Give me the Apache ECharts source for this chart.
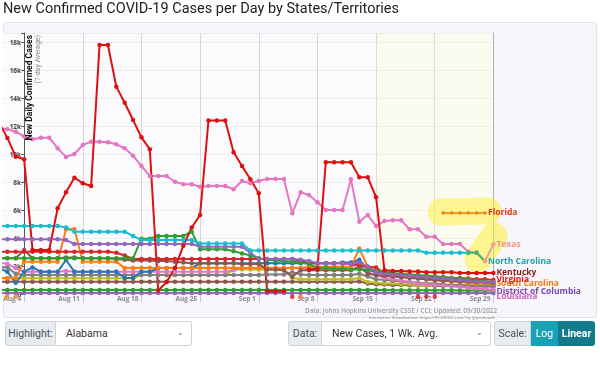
<!DOCTYPE html>
<html><head><meta charset="utf-8">
<script src="https://cdn.jsdelivr.net/npm/echarts@6/dist/echarts.min.js"></script>
<style>
body{margin:0;background:#fff;}
#wrap{position:relative;width:600px;height:386px;overflow:hidden;font-family:Roboto,sans-serif;}
#panel{position:absolute;left:3px;top:22px;width:594px;height:296px;background:#f7f7fb;border:1px solid #e3e3ea;border-radius:3px;box-sizing:border-box;}
#chart{position:absolute;left:0;top:0;width:600px;height:386px;}
.grp{position:absolute;top:321px;height:25px;display:flex;font-size:10.5px;color:#495057;}
.lab{background:#e9ecef;border:1px solid #ced4da;border-radius:3px 0 0 3px;display:flex;align-items:center;justify-content:center;box-sizing:border-box;height:25px;}
.sel{background:#fff;border:1px solid #ced4da;border-left:none;border-radius:0 3px 3px 0;display:flex;align-items:center;box-sizing:border-box;height:25px;padding-left:10px;position:relative;color:#333;}
.chev{position:absolute;right:7px;top:6px;font-size:8px;color:#777;}
.btn{display:flex;align-items:center;justify-content:center;color:#fff;height:25px;box-sizing:border-box;}
</style></head>
<body><div id="wrap">
<div id="panel"></div>
<div id="chart"></div>
<div class="grp" style="left:5px;"><div class="lab" style="width:51px;">Highlight:</div><div class="sel" style="width:136px;">Alabama<span class="chev">&#8964;</span></div></div>
<div class="grp" style="left:288px;"><div class="lab" style="width:34px;">Data:</div><div class="sel" style="width:169px;">New Cases, 1 Wk. Avg.<span class="chev">&#8964;</span></div></div>
<div class="grp" style="left:494px;"><div class="lab" style="width:37px;">Scale:</div><div class="btn" style="width:27px;background:#17a2b8;">Log</div><div class="btn" style="width:37px;background:#117a8b;border-radius:0 3px 3px 0;font-weight:bold;">Linear</div></div>
</div>
<script>
const tickLabels = ['Aug 4','Aug 11','Aug 18','Aug 25','Sep 1','Sep 8','Sep 15','Sep 22','Sep 29'];
const dates = ['Aug 1','Aug 2','Aug 3','Aug 4','Aug 5','Aug 6','Aug 7','Aug 8','Aug 9','Aug 10',
'Aug 11','Aug 12','Aug 13','Aug 14','Aug 15','Aug 16','Aug 17','Aug 18','Aug 19','Aug 20',
'Aug 21','Aug 22','Aug 23','Aug 24','Aug 25','Aug 26','Aug 27','Aug 28','Aug 29','Aug 30',
'Aug 31','Sep 1','Sep 2','Sep 3','Sep 4','Sep 5','Sep 6','Sep 7','Sep 8','Sep 9',
'Sep 10','Sep 11','Sep 12','Sep 13','Sep 14','Sep 15','Sep 16','Sep 17','Sep 18','Sep 19',
'Sep 20','Sep 21','Sep 22','Sep 23','Sep 24','Sep 25','Sep 26','Sep 27','Sep 28','Sep 29'];
const recentStart = 'Sep 15';

// values in thousands of cases / day (7-day avg)
const kentucky = [12.3,11.2,9.86,9.67,3.2,3.2,3.2,6.17,7.31,8.36,
7.96,7.76,17.84,17.84,14.86,13.71,12.48,11.24,10.39,0.3,
0.9,1.9,3.5,4.8,5.7,12.44,12.44,12.44,10.17,9.19,
8.24,7.24,0.25,0.25,0.25,null,null,1.8,1.85,9.46,
9.46,9.46,9.46,8.39,8.39,6.96,1.75,1.7,1.7,1.65,
1.65,1.6,1.6,1.6,1.6,1.55,1.55,1.55,1.55,1.55];
const texas = [11.9,11.81,11.64,11.29,11.1,11.21,11.21,10.46,9.84,10.05,
10.69,10.93,10.93,10.89,10.74,10.46,9.93,9.19,8.48,8.48,
8.48,8.07,7.89,7.89,7.71,7.76,7.76,7.76,7.53,8.12,
7.96,8.12,8.27,8.27,8.27,5.81,7.31,7.12,6.6,6.05,
6.05,6.05,8.24,5.21,5.69,4.91,5.26,5.31,5.31,4.67,
4.67,4.14,4.14,3.62,3.62,3.62,3.07,3.0,2.4,3.6];
const northCarolina = [4.9,4.9,4.9,4.9,4.9,4.9,4.9,4.9,4.8,4.5,
4.5,4.5,4.5,4.5,4.5,4.5,4.2,3.9,3.9,3.9,
3.9,3.9,3.9,3.9,3.65,3.65,3.65,3.65,3.65,3.65,
3.15,3.15,3.15,3.15,3.15,3.15,3.15,3.15,3.15,3.15,
3.15,3.15,3.15,3.15,3.15,3.15,3.15,3.15,3.15,3.15,
3.15,3.0,3.0,3.0,3.0,3.0,3.0,3.0,2.4,null];
const florida = [null,null,null,null,null,null,null,null,null,null,
null,null,null,null,null,null,null,null,null,null,
null,null,null,null,null,null,null,null,null,null,
null,null,null,null,null,null,null,null,null,null,
null,null,null,null,null,null,null,null,null,null,
null,null,null,5.84,5.84,5.84,5.84,5.84,5.84,null];
const purpleA = [3.96,3.96,3.96,3.96,3.96,3.96,3.96,3.96,3.9,3.62,
3.62,3.62,3.62,3.62,3.62,3.62,3.62,3.62,3.62,3.62,
3.62,3.62,3.62,3.62,3.43,3.43,3.43,3.43,3.43,3.43,
3.0,2.55,2.55,2.55,2.55,2.55,2.5,2.4,2.25,2.25,
2.25,2.25,2.2,2.3,2.0,1.6,1.5,1.45,1.4,1.35,
1.3,1.25,1.2,1.15,1.1,1.05,1.0,0.95,0.9,0.9];
const greenA = [2.6,2.6,2.6,2.6,2.6,2.6,2.6,2.6,2.6,2.6,
2.6,2.6,2.6,2.6,2.6,2.6,2.6,4.0,4.0,4.2,
4.2,4.2,4.2,4.5,3.24,3.24,3.24,3.24,3.1,2.95,
2.8,2.6,2.5,2.45,2.4,2.35,2.3,2.2,1.9,1.9,
1.85,1.85,1.8,1.8,1.75,1.7,1.6,1.55,1.5,1.45,
1.4,1.35,1.3,1.25,1.2,1.15,1.1,1.0,0.95,0.9];
const virginia = [3.07,3.07,3.07,3.07,3.07,3.07,3.07,3.07,3.07,3.07,
3.07,3.07,3.07,3.07,3.0,2.8,2.55,2.55,2.55,2.55,
2.55,2.55,2.55,2.55,2.55,2.55,2.55,2.55,2.55,2.55,
2.55,2.55,2.55,2.55,2.55,2.55,2.4,2.25,2.25,2.25,
2.25,2.25,2.2,2.1,2.0,1.95,1.5,1.45,1.4,1.4,
1.35,1.3,1.3,1.25,1.2,1.2,1.15,1.1,1.1,1.05];
const brownA = [2.6,2.6,2.6,3.2,2.6,2.6,2.6,2.6,2.65,2.65,
2.6,2.6,2.6,2.6,2.55,2.5,2.45,2.45,2.45,2.4,
2.4,2.35,2.3,2.25,2.25,2.25,2.25,2.25,2.25,2.2,
2.2,2.2,1.8,1.8,1.75,1.29,1.75,1.75,1.75,1.75,
1.75,1.75,1.75,2.0,1.5,1.4,1.35,1.3,1.25,1.2,
1.15,1.1,1.05,1.0,1.0,0.95,0.95,0.9,0.9,0.85];
const southCarolina = [1.2,1.2,1.2,2.36,2.36,2.36,2.36,2.36,4.67,4.67,
2.36,2.36,2.36,2.36,2.36,1.9,1.9,1.9,1.9,1.9,
1.9,1.9,1.9,1.9,1.9,1.9,1.9,1.9,1.9,1.9,
1.9,1.9,1.9,1.9,1.9,1.9,1.9,2.0,2.0,2.0,
2.0,2.0,2.0,3.3,2.0,1.7,1.5,1.4,1.3,1.25,
1.2,1.1,1.05,1.0,0.95,0.9,0.85,0.8,0.8,0.76];
const blueA = [1.9,1.64,0.85,1.64,1.95,1.64,1.64,1.64,2.48,1.64,
1.64,1.64,1.64,1.64,1.64,1.2,1.2,1.64,1.64,1.9,
1.9,1.9,1.9,1.9,2.24,2.24,2.24,2.24,2.24,2.24,
2.24,2.24,2.24,2.24,2.24,2.24,2.24,2.24,2.24,2.24,
2.24,2.3,2.3,2.5,1.8,1.6,1.5,1.45,1.4,1.3,
1.25,1.2,1.1,1.05,1.0,0.95,0.9,0.85,0.8,0.75];
const louisiana = [2.3,2.2,1.9,1.64,1.64,1.64,1.64,1.64,1.7,1.64,
1.64,1.64,1.64,1.64,1.64,1.64,1.64,1.64,1.64,1.64,
1.64,1.64,1.64,1.64,1.64,1.64,1.64,1.64,1.75,1.9,
1.9,1.9,1.9,1.9,1.9,1.9,1.9,1.9,1.9,1.9,
1.9,1.9,2.0,2.2,1.6,1.4,1.2,1.1,1.0,0.9,
0.8,0.75,0.7,0.65,0.6,0.55,0.5,0.45,0.4,0.35];
const grayA = [2.0,1.95,1.5,1.4,1.4,1.4,1.4,1.4,1.4,1.4,
1.4,1.4,1.4,1.4,1.4,1.4,1.4,1.4,1.4,1.4,
1.4,1.4,1.4,1.4,1.4,1.4,1.4,1.4,1.4,1.4,
1.4,1.4,1.45,1.45,1.45,1.6,1.45,1.4,1.4,1.4,
1.4,1.4,1.4,1.5,1.3,1.1,1.05,1.0,0.95,0.9,
0.85,0.8,0.8,0.75,0.7,0.7,0.65,0.65,0.6,0.6];
const oliveA = [1.17,1.17,1.17,1.17,1.17,1.17,1.17,1.17,1.17,1.17,
1.17,1.17,1.17,1.17,1.17,1.17,1.17,1.4,1.4,1.4,
1.4,1.4,1.4,1.4,1.4,1.4,1.4,1.4,1.8,1.8,
1.8,1.8,1.8,1.8,1.8,1.2,1.1,1.1,1.1,1.1,
1.1,1.1,1.1,1.2,0.9,0.85,0.8,0.8,0.75,0.75,
0.7,0.7,0.7,0.7,0.7,0.65,0.65,0.65,0.65,0.65];
const brownB = [0.93,0.93,0.93,0.93,0.93,0.93,0.93,0.93,0.93,0.93,
0.93,0.93,0.93,0.93,0.93,0.93,0.93,0.93,0.93,0.93,
0.93,0.93,0.93,0.93,0.93,0.93,0.93,0.93,0.93,0.93,
0.93,0.93,0.93,0.93,0.93,0.93,0.93,0.93,0.93,0.93,
0.93,0.93,0.93,0.95,0.8,0.75,0.72,0.7,0.7,0.68,
0.66,0.65,0.64,0.62,0.62,0.6,0.6,0.6,0.58,0.58];
const greenB = [0.34,0.34,0.34,0.34,0.34,0.34,0.34,0.34,0.34,0.34,
0.34,0.34,0.34,0.34,0.34,0.34,0.34,0.34,0.34,0.34,
0.34,0.34,0.34,0.34,0.34,0.34,0.34,0.34,0.34,0.34,
0.34,0.34,0.34,0.34,0.34,0.34,0.34,0.34,0.34,0.34,
0.34,0.34,0.34,0.34,0.33,0.33,0.33,0.32,0.32,0.32,
0.32,0.31,0.31,0.31,0.31,0.3,0.3,0.3,0.3,0.3];
const districtOfColumbia = [0.13,0.13,0.13,0.13,0.13,0.13,0.13,0.13,0.13,0.13,
0.13,0.13,0.13,0.13,0.13,0.13,0.13,0.13,0.13,0.13,
0.13,0.13,0.13,0.13,0.13,0.13,0.13,0.13,0.13,0.13,
0.13,0.13,0.13,0.13,0.13,0.13,0.13,0.13,0.13,0.13,
0.13,0.13,0.13,0.13,0.12,0.12,0.12,0.12,0.12,0.12,
0.12,0.12,0.12,0.12,0.12,0.12,0.12,0.12,0.12,0.12];
const redDotDates = ['Sep 5','Sep 20','Sep 21','Sep 22'];
const redDotValues = [-0.15,-0.15,-0.15,-0.15];
const orangeDotDates = ['Aug 2','Aug 3','Sep 6'];
const orangeDotValues = [-0.15,-0.15,-0.15];

const dayOffset = dates.indexOf('Aug 4');
const dayOf = s => dates.indexOf(s) - dayOffset;
const tickDays = tickLabels.map(dayOf);
function pts(arr, a, b){ const o=[]; for(let i=a;i<=b;i++) o.push([i-dayOffset, arr[i]]); return o; }
function trimmed(arr){ let a=0,b=arr.length-1; while(arr[a]==null)a++; while(arr[b]==null)b--; return pts(arr,a,b); }

const LF = 'Open Sans';
function line(name, arr, color, o){
  o = o||{};
  const s = {type:'line', name, data: o.range ? pts(arr,o.range[0],o.range[1]) : trimmed(arr),
    symbol:'circle', symbolSize:o.sym||4.5, showSymbol:true, connectNulls:false, animation:false,
    lineStyle:{color, width:o.w||2}, itemStyle:{color}, emphasis:{disabled:true}, silent:true, z:o.z||2};
  if(o.label){
    s.endLabel = {show:true, formatter:o.label, color:o.lc||color, fontSize:8.5, fontWeight:'bold', fontFamily:LF, distance:3, offset:o.off||[0,0]};
    s.labelLayout = {hideOverlap:false};
  }
  return s;
}
const rs = dayOf(recentStart);
const series = [
  Object.assign(line('District of Columbia', districtOfColumbia, '#9467bd', {label:'District of Columbia', lc:'#7a45b0', off:[0,-1]}),
    {markArea:{silent:true, itemStyle:{color:'rgba(255,255,170,0.16)'}, data:[[{xAxis:rs},{xAxis:dayOf('Sep 29')}]]}}),
  line('GreenB', greenB, '#2ca02c'),
  line('BrownB', brownB, '#8c564b'),
  line('Olive', oliveA, '#bcbd22'),
  line('Gray', grayA, '#7f7f7f'),
  line('Louisiana', louisiana, '#e377c2', {label:'Louisiana', lc:'#d25cb5', off:[0,7]}),
  line('Blue', blueA, '#1f77b4'),
  line('South Carolina', southCarolina, '#ff7f0e', {label:'South Carolina', lc:'#f07a10'}),
  line('BrownA', brownA, '#8c564b'),
  line('Virginia', virginia, '#d62728', {label:'Virginia', lc:'#e0191c'}),
  line('GreenA', greenA, '#2ca02c'),
  line('PurpleA', purpleA, '#9467bd'),
  line('North Carolina', northCarolina, '#17becf', {range:[0,56]}),
  line('Texas', texas, '#e377c2', {range:[0,58]}),
  line('Kentucky', kentucky, '#dd0f0f', {label:'Kentucky', lc:'#8e1a1a'}),
  line('Florida', florida, '#f57a12', {w:1.5, sym:3.5, label:'Florida', lc:'#d8361c'}),
  line('North Carolina tail', northCarolina, '#3cbf6a', {range:[56,58], label:'North Carolina', lc:'#1aa3a8'}),
  line('Texas tail', texas, '#f5a08c', {range:[58,59], label:'Texas', lc:'#f29582'}),
  {type:'scatter', data: redDotDates.map((d,i)=>[dayOf(d), redDotValues[i]]), symbolSize:4.5, itemStyle:{color:'#dd0f0f'}, clip:false, silent:true, animation:false},
  {type:'scatter', data: orangeDotDates.map((d,i)=>[dayOf(d), orangeDotValues[i]]), symbolSize:4.5, itemStyle:{color:'#ff7f0e'}, clip:false, silent:true, animation:false}
];

const chart = echarts.init(document.getElementById('chart'), null, {renderer:'canvas'});
const yMax = 18.69;
chart.setOption({
  animation:false,
  title:{text:'New Confirmed COVID-19 Cases per Day by States/Territories', left:3, top:2, padding:0,
    textStyle:{fontSize:14.5, fontWeight:'normal', color:'#222', fontFamily:'Roboto'}},
  grid:{left:3, right:106.6, top:33, bottom:91.3, show:true, backgroundColor:'#fbfbfe', borderWidth:0},
  xAxis:{type:'value', min:-2.52, max:56,
    axisLine:{show:false},
    axisTick:{show:true, length:8, customValues:tickDays, lineStyle:{color:'#c8c8cc'}},
    splitLine:{show:true, lineStyle:{color:'#d6d6da', width:1}},
    axisLabel:{align:'right', padding:[0,3,0,0], margin:1, fontSize:6.5, fontWeight:'bold', color:'#8a8a8a', fontFamily:LF,
      customValues:tickDays, showMinLabel:true, showMaxLabel:true,
      formatter:v=>{const k=tickDays.indexOf(Math.round(v)); return k>=0 ? tickLabels[k] : '';}}},
  yAxis:[{type:'value', min:0, max:yMax, interval:2, position:'left', offset:-21.1,
    axisLine:{show:true, lineStyle:{color:'#555', width:1}},
    axisTick:{show:true, length:3, lineStyle:{color:'#555'}},
    splitLine:{show:true, lineStyle:{color:'#ececf1'}},
    axisLabel:{fontSize:6.5, fontWeight:'bold', color:'#444', margin:3, fontFamily:LF,
      formatter:v=>{ if(Math.abs(v%2)>1e-6) return ''; return v===0?'0':v+'k'; }}},
   {type:'value', min:0, max:yMax, position:'right', axisLine:{show:true, lineStyle:{color:'#a8a8ac'}},
    axisTick:{show:false}, axisLabel:{show:false}, splitLine:{show:false}}],
  graphic:[
    {type:'line', z:1, silent:true, shape:{x1:441, y1:212, x2:488, y2:211}, style:{stroke:'rgba(255,238,50,0.55)', lineWidth:27, lineCap:'round'}},
    {type:'line', z:1, silent:true, shape:{x1:494, y1:236, x2:478, y2:259}, style:{stroke:'rgba(255,238,50,0.55)', lineWidth:27, lineCap:'round'}},
    {type:'text', z:50, silent:true, x:30, y:35, rotation:Math.PI/2, style:{text:'New Daily Confirmed Cases', fontSize:8.5, fontWeight:'bold', fill:'#111', fontFamily:'Roboto', align:'right', verticalAlign:'middle'}},
    {type:'text', z:50, silent:true, x:38.5, y:35, rotation:Math.PI/2, style:{text:'(7-day Average)', fontSize:7, fill:'#8a8a8a', fontFamily:'Roboto', align:'right', verticalAlign:'middle'}},
    {type:'text', z:50, silent:true, x:497, y:311, style:{text:'Data: Johns Hopkins University CSSE / CCI; Updated: 09/30/2022', fontSize:6.3, fontWeight:600, fill:'#999', fontFamily:LF, align:'right', verticalAlign:'middle'}},
    {type:'text', z:50, silent:true, x:497, y:317.5, style:{text:'Interactive Visualization: https://91-DIVOC.com/ by @profwade_', fontSize:4.2, fontWeight:600, fill:'#999', fontFamily:LF, align:'right', verticalAlign:'middle'}}
  ],
  series
});
</script>
</body></html>
